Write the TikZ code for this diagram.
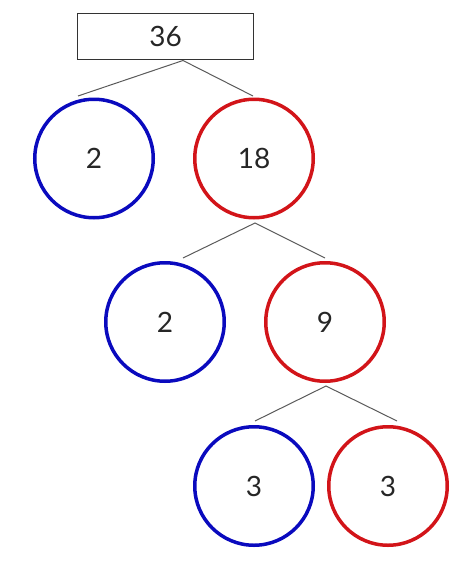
\documentclass[tikz,border=0pt]{standalone}
\usepackage{fontspec}
\setmainfont{Lato}
\definecolor{cblue}{RGB}{10,10,190}
\definecolor{cred}{RGB}{210,20,25}
\definecolor{cline}{RGB}{90,90,90}
\begin{document}
\begin{tikzpicture}[x=1pt,y=-1pt,
  num/.style={font=\fontsize{28}{30}\selectfont, text=black!85},
  bluec/.style={circle, draw=cblue, line width=3.5pt, minimum size=118.5pt, inner sep=0pt, num},
  redc/.style={circle, draw=cred, line width=3.5pt, minimum size=118.5pt, inner sep=0pt, num},
  topbox/.style={draw=black!80, line width=1.6pt, minimum width=176pt, minimum height=46pt, inner sep=0pt, num},
  conn/.style={draw=cline, line width=1pt}]
\useasboundingbox (0,0) rectangle (474,565);
\node[topbox] (b) at (165.5,36.5) {36};
\node[bluec] (c1) at (94,158.5) {2};
\node[redc] (c2) at (254,158.5) {18};
\node[bluec] (c3) at (165,322) {2};
\node[redc] (c4) at (325,322) {9};
\node[bluec] (c5) at (254,486) {3};
\node[redc] (c6) at (388,486) {3};
\coordinate (t1) at (183,60.5);
\coordinate (l1) at (78,96);
\coordinate (r1) at (253,96);
\coordinate (t2) at (255,223);
\coordinate (l2) at (183,258);
\coordinate (r2) at (325,258);
\coordinate (t3) at (326,386);
\coordinate (l3) at (255,421);
\coordinate (r3) at (397,421);
\draw[conn] (l1) -- (t1) -- (r1);
\draw[conn] (l2) -- (t2) -- (r2);
\draw[conn] (l3) -- (t3) -- (r3);
\end{tikzpicture}
\end{document}
